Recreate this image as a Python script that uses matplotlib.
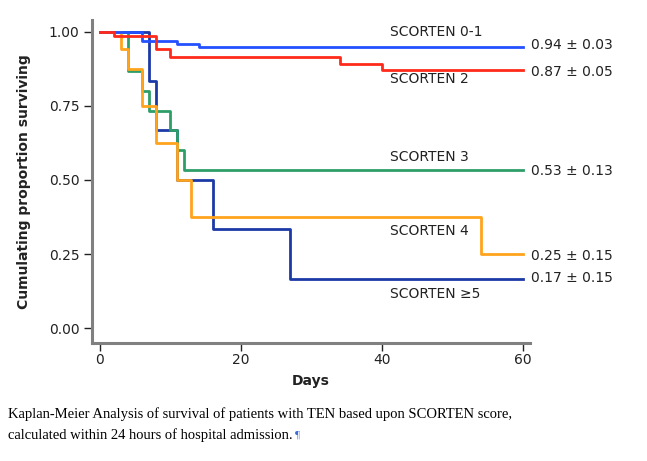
import matplotlib.pyplot as plt

# Kaplan-Meier step data (days, survival)
t_01 = [0, 6, 11, 14, 60]
s_01 = [1.0, 0.97, 0.96, 0.95, 0.95]

t_2 = [0, 2, 8, 10, 34, 40, 60]
s_2 = [1.0, 0.985, 0.94, 0.915, 0.89, 0.87, 0.87]

t_3 = [0, 4, 6, 7, 10, 11, 12, 60]
s_3 = [1.0, 0.867, 0.8, 0.733, 0.667, 0.6, 0.533, 0.533]

t_4 = [0, 3, 4, 6, 8, 11, 13, 54, 60]
s_4 = [1.0, 0.94, 0.875, 0.75, 0.625, 0.5, 0.375, 0.25, 0.25]

t_5 = [0, 7, 8, 11, 16, 27, 60]
s_5 = [1.0, 0.833, 0.667, 0.5, 0.333, 0.167, 0.167]

group_names = ["SCORTEN 0-1", "SCORTEN 2", "SCORTEN 3", "SCORTEN 4", "SCORTEN \u22655"]
end_labels = ["0.94 \u00b1 0.03", "0.87 \u00b1 0.05", "0.53 \u00b1 0.13", "0.25 \u00b1 0.15", "0.17 \u00b1 0.15"]

c_01 = "#2450ff"
c_2 = "#ff2a1a"
c_3 = "#2e9e68"
c_4 = "#ffa41c"
c_5 = "#1c3aa6"

fig = plt.figure(figsize=(6.47, 4.61), dpi=100)
ax = fig.add_axes([0.142, 0.256, 0.677, 0.701])

# draw order: dark blue under, red on top at the start
ax.step(t_5, s_5, where="post", color=c_5, lw=2)
ax.step(t_3, s_3, where="post", color=c_3, lw=2)
ax.step(t_4, s_4, where="post", color=c_4, lw=2)
ax.step(t_01, s_01, where="post", color=c_01, lw=2)
ax.step(t_2, s_2, where="post", color=c_2, lw=2)

ax.set_xlim(-1.13, 61)
ax.set_ylim(-0.05, 1.04)
ax.set_xticks([0, 20, 40, 60])
ax.set_yticks([0, 0.25, 0.5, 0.75, 1.0])
ax.set_yticklabels(["0.00", "0.25", "0.50", "0.75", "1.00"])
ax.tick_params(labelsize=10, colors="#222222", length=6, width=1, pad=3)
ax.tick_params(axis="x", pad=1)

for side in ["top", "right"]:
    ax.spines[side].set_visible(False)
for side in ["left", "bottom"]:
    ax.spines[side].set_color("#808080")
    ax.spines[side].set_linewidth(2.2)

ax.set_ylabel("Cumulating proportion surviving", fontsize=10, fontweight="bold", color="#222222", labelpad=13)
ax.set_xlabel("Days", fontsize=10, fontweight="bold", color="#222222", labelpad=5)

# group names
name_y = [1.0, 0.84, 0.577, 0.328, 0.115]
for name, y in zip(group_names, name_y):
    ax.text(41.1, y, name, fontsize=10, color="#222222", va="center", ha="left")

# values at the end of each curve
end_y = [0.956, 0.865, 0.53, 0.243, 0.17]
for lab, y in zip(end_labels, end_y):
    ax.text(61.1, y, lab, fontsize=10, color="#222222", va="center", ha="left", clip_on=False)

# caption
fig.text(0.012, 1 - 414 / 461, "Kaplan-Meier Analysis of survival of patients with TEN based upon SCORTEN score,",
         family="Liberation Serif", fontsize=10.5, color="black", va="center", ha="left")
cap2 = fig.text(0.012, 1 - 435 / 461, "calculated within 24 hours of hospital admission.",
                family="Liberation Serif", fontsize=10.5, color="black", va="center", ha="left")
fig.canvas.draw()
bb = cap2.get_window_extent()
fig.text(bb.x1 / fig.bbox.width + 0.004, 1 - 435 / 461, "\u00b6",
         family="Liberation Serif", fontsize=8, color="#3a6fd8", va="center", ha="left")

fig.savefig("out.png", dpi=100)
